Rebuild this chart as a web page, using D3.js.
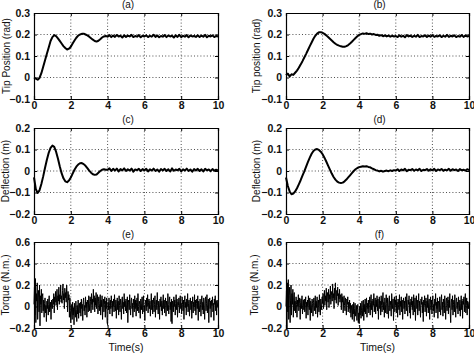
<!DOCTYPE html>
<html><head><meta charset="utf-8">
<script src="https://cdn.jsdelivr.net/npm/d3@7"></script>
<style>html,body{margin:0;padding:0;background:#fff;}svg{display:block;}</style>
</head><body>
<svg id="chart" width="474" height="353"></svg>
<script>
// ---------- DATA ----------
const xTicks = [0, 2, 4, 6, 8, 10];
const posTicks = [-0.1, 0, 0.1, 0.2, 0.3];
const defTicks = [-0.2, -0.1, 0, 0.1, 0.2];
const torTicks = [-0.2, 0, 0.2, 0.4, 0.6];
const panelTitles = ["(a)", "(b)", "(c)", "(d)", "(e)", "(f)"];
const yLabels = ["Tip Position (rad)", "Tip position (rad)", "Deflection (m)", "Deflection (m)", "Torque (N.m.)", "Torque (N.m.)"];
const xLabel = "Time(s)";
const slowStep = 0.1;    // sampling of position / deflection (s)
const fastStep = 0.025;  // sampling of torque (s)

const tipA = [
 0.000,-0.005,-0.010,-0.002,0.020,0.050,0.080,0.110,0.140,0.170,
 0.188,0.197,0.192,0.182,0.170,0.158,0.146,0.137,0.130,0.134,
 0.143,0.158,0.172,0.185,0.195,0.200,0.203,0.204,0.200,0.196,
 0.190,0.183,0.176,0.170,0.167,0.171,0.178,0.186,0.191,0.193,
 0.190,0.197,0.188,0.195,0.189,0.198,0.191,0.194,0.186,0.196,
 0.189,0.195,0.191,0.198,0.188,0.193,0.190,0.197,0.187,0.194,
 0.191,0.196,0.188,0.194,0.190,0.199,0.189,0.195,0.187,0.193,
 0.190,0.197,0.188,0.195,0.191,0.194,0.186,0.196,0.189,0.198,
 0.188,0.194,0.190,0.197,0.187,0.195,0.191,0.193,0.189,0.196,
 0.188,0.195,0.190,0.198,0.187,0.194,0.191,0.196,0.188,0.193,0.191];
const tipB = [
 0.010,0.018,0.005,0.015,0.012,0.022,0.032,0.045,0.060,0.076,
 0.093,0.110,0.128,0.146,0.163,0.180,0.194,0.204,0.210,0.211,
 0.208,0.203,0.196,0.188,0.180,0.172,0.164,0.157,0.152,0.148,
 0.145,0.143,0.143,0.146,0.151,0.158,0.166,0.175,0.184,0.192,
 0.198,0.202,0.205,0.203,0.206,0.202,0.204,0.200,0.202,0.198,
 0.199,0.194,0.197,0.192,0.196,0.191,0.195,0.190,0.194,0.191,
 0.193,0.188,0.196,0.190,0.194,0.187,0.197,0.191,0.195,0.189,
 0.194,0.190,0.198,0.188,0.193,0.191,0.196,0.189,0.195,0.190,
 0.197,0.189,0.193,0.191,0.196,0.188,0.194,0.190,0.198,0.189,
 0.194,0.191,0.196,0.188,0.193,0.190,0.197,0.189,0.195,0.191,0.193];
const defC = [
 -0.030,-0.085,-0.102,-0.090,-0.060,-0.025,0.015,0.052,0.085,0.108,
 0.118,0.112,0.090,0.058,0.022,-0.010,-0.034,-0.048,-0.052,-0.044,
 -0.030,-0.012,0.006,0.020,0.030,0.036,0.037,0.032,0.024,0.013,
 0.002,-0.008,-0.015,-0.018,-0.016,-0.008,0.000,0.006,0.008,0.006,
 0.006,0.012,0.000,0.010,0.002,0.011,-0.002,0.009,0.003,0.012,
 0.000,0.008,0.002,0.011,-0.003,0.007,0.004,0.010,0.000,0.009,
 0.003,0.010,-0.002,0.008,0.002,0.011,0.000,0.007,-0.003,0.009,
 0.002,0.010,0.000,0.008,-0.002,0.012,0.001,0.007,0.003,0.010,
 -0.002,0.008,0.002,0.011,0.000,0.007,-0.003,0.009,0.002,0.010,
 0.000,0.008,-0.002,0.010,0.003,0.007,-0.001,0.009,0.001,0.006,0.003];
const defD = [
 -0.030,-0.070,-0.095,-0.108,-0.105,-0.095,-0.080,-0.062,-0.043,-0.022,
 -0.002,0.020,0.042,0.062,0.080,0.093,0.100,0.102,0.098,0.090,
 0.078,0.062,0.044,0.025,0.006,-0.012,-0.028,-0.040,-0.049,-0.054,
 -0.056,-0.054,-0.048,-0.040,-0.030,-0.020,-0.010,0.000,0.008,0.014,
 0.018,0.020,0.022,0.021,0.022,0.019,0.017,0.012,0.008,0.004,
 0.002,-0.002,0.001,-0.003,0.000,0.002,-0.001,0.003,0.000,0.004,
 0.002,0.008,0.000,0.007,0.003,0.010,-0.001,0.006,0.004,0.009,
 0.001,0.007,0.003,0.010,0.000,0.006,0.004,0.009,0.001,0.008,
 0.003,0.010,0.000,0.007,0.004,0.009,0.001,0.006,0.003,0.010,
 0.001,0.008,0.004,0.007,0.000,0.009,0.003,0.006,0.002,0.008,0.004];
const torE = [
 0.02,0.18,-0.08,0.26,-0.15,0.12,0.05,0.22,-0.12,0.08,0.15,-0.05,0.20,-0.18,0.10,0.02,0.16,-0.06,0.09,0.12,
 -0.04,0.06,-0.10,0.03,0.08,-0.06,0.01,-0.14,0.05,-0.02,0.07,-0.08,0.02,0.10,-0.05,-0.01,0.04,-0.12,0.06,0.00,
 -0.02,0.07,0.02,0.12,-0.06,0.09,0.04,0.14,0.01,0.06,0.16,-0.03,0.10,0.05,0.18,0.02,0.11,0.07,0.20,0.04,
 0.10,0.03,0.15,0.21,0.06,0.12,-0.02,0.17,0.08,0.13,0.04,0.20,0.09,-0.05,0.14,0.06,0.11,-0.10,0.08,-0.04,
 -0.15,0.02,-0.06,-0.12,0.04,-0.08,-0.01,-0.17,0.03,-0.05,-0.10,0.05,-0.03,-0.14,0.01,-0.07,0.06,-0.11,-0.02,0.03,
 -0.06,0.04,-0.09,0.07,-0.02,0.02,-0.13,0.05,0.08,-0.04,0.01,-0.08,0.09,-0.01,0.04,-0.10,0.06,0.02,-0.05,0.10,
 0.03,-0.04,0.09,0.05,-0.06,0.12,0.02,0.07,-0.03,0.16,0.04,0.10,-0.05,0.08,0.01,0.13,-0.02,0.06,0.11,-0.07,
 0.05,0.09,-0.04,0.03,0.11,-0.08,0.06,0.00,0.10,-0.12,0.04,0.07,-0.05,0.02,0.09,-0.10,0.05,-0.02,0.08,-0.15,
 -0.17,0.04,-0.03,0.08,0.01,-0.07,0.06,-0.02,0.10,0.03,-0.09,0.05,0.00,0.07,-0.05,0.11,0.02,-0.04,0.06,-0.11,
 0.03,0.08,-0.03,0.05,-0.08,0.10,0.01,-0.05,0.07,0.02,-0.12,0.06,0.09,-0.02,0.04,-0.07,0.12,0.00,0.05,-0.04,
 0.07,-0.06,0.02,0.09,-0.15,0.04,0.06,-0.03,0.11,0.00,-0.08,0.05,0.08,-0.02,0.03,-0.10,0.07,0.01,-0.05,0.10,
 -0.02,0.06,-0.09,0.04,0.08,-0.04,0.12,0.00,-0.06,0.05,0.02,-0.11,0.07,0.03,-0.03,0.09,-0.07,0.04,0.10,-0.05,
 0.01,-0.13,0.06,0.03,-0.04,0.08,0.00,0.11,-0.06,0.04,0.07,-0.02,0.05,-0.09,0.02,0.12,-0.03,0.06,-0.07,0.03,
 0.08,-0.05,0.02,0.10,-0.10,0.04,0.06,-0.03,0.13,0.01,-0.07,0.05,0.03,-0.12,0.07,0.00,0.09,-0.04,0.05,-0.08,
 0.04,0.11,-0.02,0.06,-0.06,0.03,0.08,-0.09,0.05,0.01,-0.04,0.12,0.02,-0.07,0.06,0.09,-0.03,0.04,-0.14,0.07,
 -0.16,0.05,0.02,-0.05,0.09,0.00,0.06,-0.08,0.03,0.11,-0.03,0.07,-0.10,0.04,0.01,0.08,-0.06,0.05,0.10,-0.02,
 0.03,-0.07,0.09,0.02,-0.04,0.06,-0.12,0.05,0.10,-0.01,0.04,-0.08,0.07,0.00,0.12,-0.05,0.03,0.06,-0.09,0.04,
 0.08,-0.03,0.05,-0.11,0.02,0.09,-0.06,0.04,0.00,0.11,-0.04,0.06,-0.08,0.03,0.07,-0.02,0.10,-0.13,0.05,0.01,
 -0.05,0.07,0.02,-0.09,0.06,0.10,-0.03,0.04,-0.07,0.08,0.00,-0.12,0.05,0.09,-0.04,0.03,0.11,-0.06,0.02,0.07,
 -0.15,0.04,0.08,-0.02,0.05,-0.10,0.06,0.01,0.09,-0.05,0.03,-0.13,0.07,0.02,0.10,-0.04,0.05,-0.08,0.06,0.00,0.03];
const torF = [
 0.00,0.15,-0.20,0.22,-0.05,0.25,-0.12,0.10,0.18,-0.15,0.06,0.20,-0.08,0.12,0.02,0.16,-0.10,0.08,0.13,-0.04,
 0.05,-0.06,0.09,0.02,-0.10,0.06,0.00,0.11,-0.04,0.03,0.08,-0.12,0.04,0.07,-0.02,0.10,-0.07,0.01,0.06,-0.03,
 0.07,-0.05,0.02,0.09,-0.11,0.04,0.00,0.06,-0.08,0.10,0.01,-0.03,0.08,-0.13,0.05,0.02,-0.06,0.07,0.03,-0.09,
 0.04,0.08,-0.04,0.01,0.10,-0.07,0.05,-0.01,0.09,-0.10,0.03,0.06,-0.05,0.11,0.00,-0.08,0.07,0.02,-0.03,0.09,
 0.03,0.12,-0.02,0.08,0.15,0.01,0.10,0.05,0.17,-0.03,0.09,0.13,0.04,0.16,-0.01,0.11,0.07,0.19,0.02,0.10,
 0.14,0.05,0.21,0.08,0.12,-0.02,0.17,0.06,0.22,0.09,0.03,0.15,0.10,0.18,0.01,0.12,0.07,0.16,0.04,0.11,
 0.08,-0.03,0.12,0.04,0.09,-0.06,0.06,0.10,0.01,-0.04,0.08,0.03,-0.08,0.07,0.02,0.09,-0.05,0.04,-0.02,0.06,
 -0.06,0.03,-0.10,0.01,-0.04,-0.12,0.02,-0.07,0.04,-0.14,-0.02,0.03,-0.09,-0.05,0.01,-0.13,-0.03,0.02,-0.15,-0.06,
 -0.16,0.00,-0.08,0.03,-0.11,-0.04,0.05,-0.09,-0.01,0.06,-0.13,0.02,-0.05,0.07,-0.07,0.01,0.08,-0.10,0.03,-0.02,
 0.06,-0.06,0.02,0.09,-0.08,0.04,0.11,-0.03,0.05,-0.10,0.07,0.01,0.12,-0.05,0.03,0.08,-0.07,0.06,0.00,0.10,
 -0.04,0.07,-0.12,0.03,0.09,-0.02,0.05,-0.08,0.10,0.01,-0.05,0.06,0.13,-0.03,0.04,-0.10,0.08,0.02,-0.06,0.11,
 0.03,-0.07,0.08,0.00,-0.11,0.06,0.10,-0.04,0.05,0.01,-0.09,0.12,0.03,-0.02,0.07,-0.13,0.04,0.09,-0.05,0.06,
 0.01,0.10,-0.06,0.04,-0.10,0.07,0.02,-0.03,0.11,-0.08,0.05,0.00,0.09,-0.05,0.06,-0.12,0.03,0.08,-0.02,0.05,
 -0.07,0.09,0.03,-0.04,0.12,0.00,-0.09,0.06,0.02,0.10,-0.06,0.04,-0.11,0.07,0.01,0.09,-0.03,0.05,-0.08,0.11,
 0.02,-0.05,0.08,-0.13,0.04,0.10,-0.02,0.06,-0.08,0.03,0.12,-0.04,0.05,0.00,-0.10,0.07,0.02,0.09,-0.06,0.04,
 -0.14,0.06,0.01,0.10,-0.05,0.03,0.08,-0.09,0.05,-0.01,0.11,-0.06,0.04,0.07,-0.12,0.02,0.09,-0.03,0.06,-0.07,
 0.05,0.10,-0.04,0.02,-0.10,0.07,0.01,0.12,-0.06,0.04,-0.02,0.08,-0.11,0.05,0.03,-0.05,0.09,0.00,-0.08,0.06,
 0.11,-0.03,0.04,-0.09,0.07,0.02,-0.06,0.10,0.01,-0.12,0.05,0.08,-0.04,0.03,0.09,-0.07,0.06,-0.01,0.12,-0.05,
 -0.15,0.04,0.07,-0.03,0.10,-0.08,0.02,0.06,-0.05,0.11,0.00,-0.10,0.05,0.08,-0.02,0.04,-0.07,0.09,0.01,-0.04,
 0.06,-0.09,0.03,0.10,-0.03,0.05,-0.11,0.07,0.02,0.09,-0.05,0.04,0.12,-0.06,0.01,0.08,-0.08,0.05,0.03,-0.02,0.04];

// ---------- LAYOUT ----------
const svg = d3.select("#chart");
const FONT = "'Liberation Sans', Arial, Helvetica, sans-serif";
const cols = [{x0: 34, x1: 218}, {x0: 286, x1: 469}];
const rows = [{y0: 13, y1: 99, title: 5}, {y0: 128, y1: 214, title: 120}, {y0: 242, y1: 328, title: 235}];

const panels = [
  {r: 0, c: 0, data: tipA, step: slowStep, ticks: posTicks, dom: [-0.1, 0.3], sw: 2.0, lab: 7},
  {r: 0, c: 1, data: tipB, step: slowStep, ticks: posTicks, dom: [-0.1, 0.3], sw: 2.0, lab: 257},
  {r: 1, c: 0, data: defC, step: slowStep, ticks: defTicks, dom: [-0.2, 0.2], sw: 2.0, lab: 6},
  {r: 1, c: 1, data: defD, step: slowStep, ticks: defTicks, dom: [-0.2, 0.2], sw: 2.0, lab: 257},
  {r: 2, c: 0, data: torE, step: fastStep, ticks: torTicks, dom: [-0.2, 0.6], sw: 1.0, lab: 6},
  {r: 2, c: 1, data: torF, step: fastStep, ticks: torTicks, dom: [-0.2, 0.6], sw: 1.0, lab: 255}
];

const fmt = v => (v < 0 ? "\u2212" : "") + String(Math.abs(Math.round(v * 10) / 10));

panels.forEach((p, i) => {
  const col = cols[p.c], row = rows[p.r];
  const x = d3.scaleLinear().domain([0, 10]).range([col.x0, col.x1]);
  const y = d3.scaleLinear().domain(p.dom).range([row.y1, row.y0]);
  const g = svg.append("g");

  // grid
  g.append("g").selectAll("line").data(xTicks.slice(1, -1)).join("line")
    .attr("x1", d => x(d)).attr("x2", d => x(d)).attr("y1", row.y0).attr("y2", row.y1)
    .attr("stroke", "#222").attr("stroke-width", 0.8).attr("stroke-dasharray", "1,2.2");
  g.append("g").selectAll("line").data(p.ticks.slice(1, -1)).join("line")
    .attr("y1", d => y(d)).attr("y2", d => y(d)).attr("x1", col.x0).attr("x2", col.x1)
    .attr("stroke", "#222").attr("stroke-width", 0.8).attr("stroke-dasharray", "1,2.2");

  // data line
  const line = d3.line().x((d, j) => x(j * p.step)).y(d => y(d));
  g.append("path").datum(p.data).attr("d", line)
    .attr("fill", "none").attr("stroke", "#000").attr("stroke-width", p.sw).attr("stroke-linejoin", "round");

  // axes (inward ticks, MATLAB style)
  const ax = d3.axisBottom(x).tickValues(xTicks).tickSize(-3).tickPadding(p.r === 2 ? 2 : 3).tickFormat(d3.format("d"));
  const axG = g.append("g").attr("transform", `translate(0,${row.y1})`).call(ax);
  const ay = d3.axisLeft(y).tickValues(p.ticks).tickSize(-3).tickPadding(4).tickFormat(fmt);
  const ayG = g.append("g").attr("transform", `translate(${col.x0},0)`).call(ay);
  const axT = g.append("g").attr("transform", `translate(0,${row.y0})`).call(d3.axisTop(x).tickValues(xTicks).tickSize(-3).tickFormat(""));
  const ayR = g.append("g").attr("transform", `translate(${col.x1},0)`).call(d3.axisRight(y).tickValues(p.ticks).tickSize(-3).tickFormat(""));
  [axG, ayG, axT, ayR].forEach(a => {
    a.select(".domain").attr("stroke", "#000").attr("stroke-width", 1.2);
    a.selectAll(".tick line").attr("stroke", "#000");
    a.selectAll("text").attr("font-family", FONT).attr("font-size", 10.5).attr("font-weight", "bold").attr("fill", "#111");
  });

  // title
  svg.append("text").attr("x", (col.x0 + col.x1) / 2 + 2).attr("y", row.title)
    .attr("text-anchor", "middle").attr("dominant-baseline", "middle")
    .attr("font-family", FONT).attr("font-size", 10).attr("fill", "#111").text(panelTitles[i]);

  // y label
  svg.append("text").attr("transform", `translate(${p.lab},${(row.y0 + row.y1) / 2}) rotate(-90)`)
    .attr("text-anchor", "middle").attr("dominant-baseline", "middle")
    .attr("font-family", FONT).attr("font-size", 10).attr("fill", "#111").text(yLabels[i]);

  if (p.r === 2) {
    svg.append("text").attr("x", (col.x0 + col.x1) / 2).attr("y", 348)
      .attr("text-anchor", "middle").attr("dominant-baseline", "middle")
      .attr("font-family", FONT).attr("font-size", 10.5).attr("fill", "#111").text(xLabel);
  }
});
</script>
</body></html>
